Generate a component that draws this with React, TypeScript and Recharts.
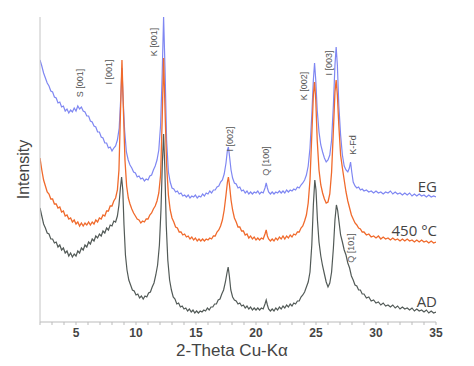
import { LineChart, Line, XAxis, YAxis, ReferenceDot } from "recharts";

// 2-theta (deg) vs. relative intensity
const egPattern: [number, number][] = [
  [2.0, 262], [2.15, 256], [2.3, 249], [2.45, 244], [2.6, 239], [2.75, 236], [2.9, 231], [3.05, 230],
  [3.2, 225], [3.35, 224], [3.5, 219], [3.65, 220], [3.8, 215], [3.95, 216], [4.1, 211], [4.25, 213],
  [4.4, 209], [4.55, 212], [4.7, 210], [4.85, 214], [5.0, 211], [5.15, 216], [5.3, 213], [5.45, 215],
  [5.6, 211], [5.75, 210], [5.9, 206], [6.05, 206], [6.2, 201], [6.35, 200], [6.5, 196], [6.65, 195],
  [6.8, 190], [6.95, 190], [7.1, 185], [7.25, 184], [7.4, 179], [7.55, 179], [7.7, 174], [7.85, 175],
  [8.0, 171], [8.15, 174], [8.3, 176], [8.45, 182], [8.6, 194], [8.72, 222], [8.83, 254], [8.93, 222],
  [9.05, 192], [9.2, 170], [9.35, 162], [9.5, 157], [9.65, 154], [9.8, 150], [9.95, 149], [10.1, 145],
  [10.25, 146], [10.4, 143], [10.55, 144], [10.7, 141], [10.85, 143], [11.0, 142], [11.15, 146], [11.3, 147],
  [11.45, 152], [11.6, 156], [11.75, 162], [11.9, 172], [12.05, 197], [12.18, 247], [12.3, 305], [12.42, 252],
  [12.55, 182], [12.7, 150], [12.85, 140], [13.0, 134], [13.15, 133], [13.3, 130], [13.45, 131], [13.6, 128],
  [13.75, 129], [13.9, 126], [14.05, 127], [14.2, 125], [14.35, 127], [14.5, 124], [14.65, 126], [14.8, 125],
  [14.95, 127], [15.1, 124], [15.25, 126], [15.4, 125], [15.55, 128], [15.7, 126], [15.85, 129], [16.0, 128],
  [16.15, 131], [16.3, 129], [16.45, 132], [16.6, 132], [16.75, 135], [16.9, 136], [17.05, 140], [17.2, 142],
  [17.35, 148], [17.5, 159], [17.62, 172], [17.7, 175], [17.8, 165], [17.92, 152], [18.05, 144], [18.2, 139],
  [18.35, 138], [18.5, 134], [18.65, 135], [18.8, 131], [18.95, 132], [19.1, 129], [19.25, 131], [19.4, 128],
  [19.55, 130], [19.7, 128], [19.85, 130], [20.0, 129], [20.15, 131], [20.3, 128], [20.45, 130], [20.6, 129],
  [20.75, 134], [20.85, 139], [20.95, 134], [21.05, 130], [21.2, 128], [21.35, 130], [21.5, 128], [21.65, 130],
  [21.8, 129], [21.95, 131], [22.1, 129], [22.25, 131], [22.4, 129], [22.55, 132], [22.7, 130], [22.85, 132],
  [23.0, 131], [23.15, 133], [23.3, 132], [23.45, 135], [23.6, 134], [23.75, 137], [23.9, 139], [24.05, 142],
  [24.2, 147], [24.35, 156], [24.5, 174], [24.65, 207], [24.78, 242], [24.88, 259], [24.98, 242], [25.1, 212],
  [25.25, 190], [25.4, 177], [25.55, 170], [25.7, 164], [25.85, 160], [26.0, 162], [26.15, 167], [26.3, 182],
  [26.45, 217], [26.58, 257], [26.68, 275], [26.78, 257], [26.9, 217], [27.05, 187], [27.2, 167], [27.35, 156],
  [27.5, 152], [27.65, 150], [27.78, 154], [27.88, 160], [27.98, 150], [28.1, 140], [28.25, 136], [28.4, 134],
  [28.55, 135], [28.7, 132], [28.85, 133], [29.0, 131], [29.2, 132], [29.4, 130], [29.6, 131], [29.8, 129],
  [30.0, 131], [30.2, 129], [30.4, 130], [30.6, 128], [30.8, 130], [31.0, 129], [31.2, 131], [31.4, 128],
  [31.6, 130], [31.8, 128], [32.0, 129], [32.2, 127], [32.4, 129], [32.6, 127], [32.8, 129], [33.0, 126],
  [33.2, 128], [33.4, 126], [33.6, 128], [33.8, 126], [34.0, 127], [34.2, 125], [34.4, 127], [34.6, 125],
  [34.8, 126], [35.0, 125],
];

const heatedPattern: [number, number][] = [
  [2.0, 164], [2.15, 152], [2.3, 142], [2.45, 136], [2.6, 130], [2.75, 128], [2.9, 123], [3.05, 123],
  [3.2, 118], [3.35, 118], [3.5, 114], [3.65, 115], [3.8, 110], [3.95, 111], [4.1, 106], [4.25, 107],
  [4.4, 103], [4.55, 104], [4.7, 100], [4.85, 102], [5.0, 98], [5.15, 100], [5.3, 96], [5.45, 99],
  [5.6, 96], [5.75, 99], [5.9, 97], [6.05, 100], [6.2, 97], [6.35, 100], [6.5, 98], [6.65, 102],
  [6.8, 100], [6.95, 104], [7.1, 103], [7.25, 107], [7.4, 106], [7.55, 111], [7.7, 111], [7.85, 116],
  [8.0, 116], [8.15, 121], [8.3, 124], [8.45, 132], [8.58, 152], [8.7, 207], [8.83, 262], [8.95, 212],
  [9.08, 162], [9.22, 136], [9.36, 124], [9.5, 118], [9.65, 113], [9.8, 109], [9.95, 106], [10.1, 103],
  [10.25, 102], [10.4, 99], [10.55, 101], [10.7, 100], [10.85, 103], [11.0, 103], [11.15, 107], [11.3, 109],
  [11.45, 113], [11.6, 116], [11.75, 121], [11.9, 129], [12.05, 147], [12.18, 202], [12.3, 264], [12.42, 212],
  [12.55, 157], [12.7, 127], [12.85, 112], [13.0, 104], [13.15, 100], [13.3, 95], [13.45, 94], [13.6, 90],
  [13.75, 90], [13.9, 87], [14.05, 88], [14.2, 85], [14.35, 86], [14.5, 83], [14.65, 85], [14.8, 82],
  [14.95, 84], [15.1, 81], [15.25, 83], [15.4, 81], [15.55, 83], [15.7, 81], [15.85, 83], [16.0, 82],
  [16.15, 84], [16.3, 83], [16.45, 86], [16.6, 86], [16.75, 90], [16.9, 92], [17.05, 96], [17.2, 102],
  [17.35, 112], [17.5, 127], [17.62, 140], [17.7, 145], [17.8, 136], [17.92, 122], [18.05, 112], [18.2, 104],
  [18.35, 100], [18.5, 95], [18.65, 95], [18.8, 91], [18.95, 91], [19.1, 87], [19.25, 88], [19.4, 84],
  [19.55, 86], [19.7, 83], [19.85, 85], [20.0, 82], [20.15, 84], [20.3, 82], [20.45, 84], [20.6, 83],
  [20.75, 88], [20.85, 92], [20.95, 86], [21.05, 83], [21.2, 81], [21.35, 83], [21.5, 81], [21.65, 84],
  [21.8, 82], [21.95, 85], [22.1, 83], [22.25, 86], [22.4, 83], [22.55, 86], [22.7, 84], [22.85, 87],
  [23.0, 85], [23.15, 88], [23.3, 87], [23.45, 90], [23.6, 90], [23.75, 94], [23.9, 96], [24.05, 101],
  [24.2, 107], [24.35, 119], [24.5, 142], [24.65, 187], [24.78, 227], [24.88, 240], [24.98, 222], [25.1, 182],
  [25.25, 152], [25.4, 137], [25.55, 129], [25.7, 123], [25.85, 119], [26.0, 120], [26.15, 128], [26.3, 150],
  [26.45, 192], [26.58, 230], [26.68, 242], [26.78, 227], [26.9, 197], [27.05, 167], [27.2, 154], [27.35, 142],
  [27.5, 130], [27.65, 121], [27.8, 114], [27.95, 107], [28.1, 103], [28.25, 99], [28.4, 97], [28.55, 94],
  [28.7, 93], [28.85, 90], [29.0, 90], [29.2, 87], [29.4, 88], [29.6, 85], [29.8, 86], [30.0, 84],
  [30.2, 86], [30.4, 83], [30.6, 85], [30.8, 83], [31.0, 84], [31.2, 82], [31.4, 84], [31.6, 82],
  [31.8, 83], [32.0, 81], [32.2, 83], [32.4, 81], [32.6, 83], [32.8, 81], [33.0, 82], [33.2, 80],
  [33.4, 82], [33.6, 80], [33.8, 82], [34.0, 80], [34.2, 81], [34.4, 79], [34.6, 81], [34.8, 79],
  [35.0, 80],
];

const airDriedPattern: [number, number][] = [
  [2.0, 114], [2.15, 106], [2.3, 98], [2.45, 94], [2.6, 89], [2.75, 88], [2.9, 83], [3.05, 83],
  [3.2, 79], [3.35, 80], [3.5, 75], [3.65, 77], [3.8, 72], [3.95, 74], [4.1, 69], [4.25, 71],
  [4.4, 66], [4.55, 69], [4.7, 65], [4.85, 68], [5.0, 66], [5.15, 71], [5.3, 69], [5.45, 74],
  [5.6, 72], [5.75, 77], [5.9, 75], [6.05, 80], [6.2, 78], [6.35, 83], [6.5, 81], [6.65, 86],
  [6.8, 84], [6.95, 88], [7.1, 86], [7.25, 91], [7.4, 89], [7.55, 94], [7.7, 92], [7.85, 97],
  [8.0, 96], [8.15, 101], [8.3, 100], [8.45, 106], [8.58, 117], [8.7, 134], [8.8, 145], [8.9, 132],
  [9.0, 97], [9.12, 67], [9.25, 52], [9.4, 42], [9.55, 37], [9.7, 32], [9.85, 31], [10.0, 27],
  [10.15, 28], [10.3, 24], [10.45, 26], [10.6, 23], [10.75, 26], [10.9, 25], [11.05, 29], [11.2, 30],
  [11.35, 35], [11.5, 39], [11.65, 47], [11.8, 57], [11.95, 77], [12.08, 112], [12.2, 160], [12.3, 188],
  [12.4, 155], [12.52, 97], [12.65, 62], [12.8, 42], [12.95, 32], [13.1, 25], [13.25, 23], [13.4, 18],
  [13.55, 19], [13.7, 15], [13.85, 16], [14.0, 13], [14.15, 14], [14.3, 11], [14.45, 13], [14.6, 10],
  [14.75, 12], [14.9, 9], [15.05, 11], [15.2, 9], [15.35, 11], [15.5, 10], [15.65, 12], [15.8, 11],
  [15.95, 14], [16.1, 12], [16.25, 15], [16.4, 15], [16.55, 18], [16.7, 18], [16.85, 22], [17.0, 23],
  [17.15, 28], [17.3, 32], [17.45, 40], [17.58, 49], [17.68, 55], [17.78, 46], [17.9, 32], [18.05, 25],
  [18.2, 22], [18.35, 21], [18.5, 18], [18.65, 19], [18.8, 16], [18.95, 17], [19.1, 14], [19.25, 16],
  [19.4, 13], [19.55, 15], [19.7, 12], [19.85, 14], [20.0, 12], [20.15, 14], [20.3, 12], [20.45, 14],
  [20.6, 13], [20.75, 18], [20.85, 22], [20.95, 17], [21.05, 13], [21.2, 11], [21.35, 13], [21.5, 11],
  [21.65, 14], [21.8, 12], [21.95, 15], [22.1, 13], [22.25, 16], [22.4, 14], [22.55, 17], [22.7, 15],
  [22.85, 18], [23.0, 16], [23.15, 19], [23.3, 18], [23.45, 21], [23.6, 21], [23.75, 25], [23.9, 27],
  [24.05, 30], [24.2, 35], [24.35, 40], [24.5, 50], [24.65, 77], [24.78, 117], [24.9, 142], [25.0, 132],
  [25.12, 102], [25.25, 80], [25.4, 66], [25.55, 56], [25.7, 48], [25.85, 40], [26.0, 35], [26.15, 39],
  [26.3, 50], [26.45, 74], [26.58, 102], [26.7, 117], [26.8, 112], [26.92, 100], [27.05, 87], [27.2, 80],
  [27.35, 72], [27.5, 67], [27.65, 59], [27.8, 54], [27.95, 46], [28.1, 42], [28.25, 37], [28.4, 36],
  [28.55, 32], [28.7, 32], [28.85, 28], [29.0, 28], [29.2, 24], [29.4, 25], [29.6, 21], [29.8, 22],
  [30.0, 19], [30.2, 20], [30.4, 17], [30.6, 19], [30.8, 16], [31.0, 17], [31.2, 15], [31.4, 17],
  [31.6, 14], [31.8, 16], [32.0, 13], [32.2, 15], [32.4, 13], [32.6, 14], [32.8, 12], [33.0, 14],
  [33.2, 11], [33.4, 13], [33.6, 11], [33.8, 12], [34.0, 10], [34.2, 12], [34.4, 9], [34.6, 11],
  [34.8, 9], [35.0, 10],
];

// peak annotations: label, 2-theta, height of label centre
const peakLabels: [string, number, number][] = [
  ["S [001]", 5.33, 239],
  ["I [001]", 7.75, 250],
  ["K [001]", 11.5, 280],
  ["I [002]", 17.83, 183],
  ["Q [100]", 20.83, 161],
  ["K [002]", 24.0, 236],
  ["I [003]", 26.08, 259],
  ["K-Fd", 28.08, 177],
  ["Q [101]", 27.92, 74],
];

// treatment names at the right end of each trace
const traceNames: [string, number][] = [
  ["EG", 136],
  ["450 °C", 92],
  ["AD", 21],
];

const xTicks = Array.from({ length: 34 }, (_, i) => i + 2);

const toPoints = (rows: [number, number][]) => rows.map(([x, y]) => ({ x, y }));

const RotatedLabel = ({ viewBox, text }: any) => {
  const cx = viewBox.x + (viewBox.width || 0) / 2;
  const cy = viewBox.y + (viewBox.height || 0) / 2;
  return (
    <text
      x={cx}
      y={cy}
      transform={`rotate(-90 ${cx} ${cy})`}
      textAnchor="middle"
      dominantBaseline="central"
      fontSize={9}
      fontFamily="Liberation Sans, Arial, sans-serif"
      fill="#555"
    >
      {text}
    </text>
  );
};

const TraceName = ({ viewBox, text }: any) => (
  <text
    x={viewBox.x + 1}
    y={viewBox.y}
    textAnchor="end"
    dominantBaseline="central"
    fontSize={15}
    fontFamily="Open Sans, sans-serif"
    fill="#444"
  >
    {text}
  </text>
);

export default function App() {
  return (
    <div style={{ position: "absolute", left: 0, top: 0, background: "#fff" }}>
      <LineChart width={474} height={366} margin={{ top: 17, right: 38, left: 0, bottom: 0 }}>
        <XAxis
          type="number"
          dataKey="x"
          domain={[2, 35]}
          ticks={xTicks}
          interval={0}
          allowDataOverflow
          height={44}
          stroke="#bbb"
          tickSize={3}
          tickMargin={3}
          tickFormatter={(v: number) => (v % 5 === 0 ? String(v) : "")}
          tick={{ fontSize: 12, fontWeight: 700, fill: "#444", fontFamily: "Liberation Sans, Arial, sans-serif" }}
          label={{
            content: ({ viewBox }: any) => (
              <text
                x={viewBox.x + 192}
                y={viewBox.y + 34}
                textAnchor="middle"
                fontSize={17}
                fontFamily="Liberation Sans, Arial, sans-serif"
                fill="#444"
              >
                2-Theta Cu-Kα
              </text>
            ),
          }}
        />
        <YAxis
          type="number"
          domain={[0, 305]}
          allowDataOverflow
          width={40}
          tick={false}
          tickLine={false}
          stroke="#c4c4c4"
          label={{
            content: ({ viewBox }: any) => {
              const x = viewBox.x + 23;
              const y = viewBox.y + viewBox.height / 2;
              return (
                <text
                  x={x}
                  y={y}
                  transform={`rotate(-90 ${x} ${y})`}
                  textAnchor="middle"
                  dominantBaseline="central"
                  fontSize={16}
                  fontFamily="Liberation Sans, Arial, sans-serif"
                  fill="#444"
                >
                  Intensity
                </text>
              );
            },
          }}
        />
        <Line
          data={toPoints(egPattern)}
          dataKey="y"
          type="linear"
          stroke="#7f87f2"
          strokeWidth={1.2}
          dot={false}
          isAnimationActive={false}
        />
        <Line
          data={toPoints(heatedPattern)}
          dataKey="y"
          type="linear"
          stroke="#f06a2c"
          strokeWidth={1.3}
          dot={false}
          isAnimationActive={false}
        />
        <Line
          data={toPoints(airDriedPattern)}
          dataKey="y"
          type="linear"
          stroke="#525a57"
          strokeWidth={1.2}
          dot={false}
          isAnimationActive={false}
        />
        {peakLabels.map(([text, x, y]) => (
          <ReferenceDot
            key={text}
            x={x}
            y={y}
            r={0}
            fill="none"
            stroke="none"
            label={<RotatedLabel text={text} />}
          />
        ))}
        {traceNames.map(([text, y]) => (
          <ReferenceDot
            key={text}
            x={35}
            y={y}
            r={0}
            fill="none"
            stroke="none"
            label={<TraceName text={text} />}
          />
        ))}
      </LineChart>
    </div>
  );
}
